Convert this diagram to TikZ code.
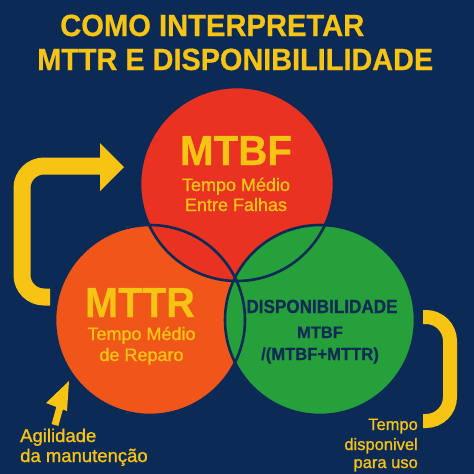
\documentclass[tikz,border=0pt]{standalone}
\usepackage{fontspec}
\usepackage{graphicx}
\setmainfont{Liberation Sans}
\newfontfamily\boldfam[FakeBold=0.6]{Liberation Sans Bold}
\newfontfamily\medfam[FakeBold=1.0]{Liberation Sans}
\definecolor{bgnavy}{HTML}{0C2A56}
\definecolor{redc}{HTML}{E93222}
\definecolor{orangec}{HTML}{F0561A}
\definecolor{greenc}{HTML}{26A03A}
\definecolor{yel}{HTML}{F8C414}
\definecolor{txtnavy}{HTML}{0E2B55}
\begin{document}
\begin{tikzpicture}[x=1pt,y=-1pt,
  disc/.style={circle, inner sep=0pt, draw=none},
  ytext/.style={text=yel, inner sep=0pt},
  ntext/.style={text=txtnavy, inner sep=0pt},
  ylink/.style={draw=yel, line cap=butt}]
\useasboundingbox (0,0) rectangle (474,474);
\fill[bgnavy] (0,0) rectangle (474,474);
% title
\node[ytext, anchor=base west, font=\boldfam\fontsize{30.7}{34}\selectfont] (t1) at (60,36) {\scalebox{0.95}[1]{COMO INTERPRETAR}};
\node[ytext, anchor=base west, font=\boldfam\fontsize{30.7}{34}\selectfont] (t2) at (37,70) {\scalebox{0.94}[1]{MTTR E DISPONIBILILIDADE}};
% circles
\node[disc, fill=orangec, minimum size=190pt] (mttr) at (150,320) {};
\node[disc, fill=redc, minimum size=194pt] (mtbf) at (237,184) {};
\node[disc, fill=greenc, minimum size=190pt] (disp) at (320,320) {};
\foreach \n/\r in {mttr/95,mtbf/97,disp/95}
  \draw[bgnavy, line width=2.6pt] (\n.center) circle[radius=\r pt];
% MTBF texts
\node[ytext, anchor=base, font=\boldfam\fontsize{42}{46}\selectfont] (mtbfT) at (236,165) {\scalebox{0.96}[1]{MTBF}};
\node[ytext, anchor=base, font=\medfam\fontsize{18}{20}\selectfont] (mtbf1) at (236,191) {Tempo Médio};
\node[ytext, anchor=base, font=\medfam\fontsize{18}{20}\selectfont] (mtbf2) at (236,211) {Entre Falhas};
% MTTR texts
\node[ytext, anchor=base, font=\boldfam\fontsize{42}{46}\selectfont] (mttrT) at (140,317) {\scalebox{0.94}[1]{MTTR}};
\node[ytext, anchor=base, font=\medfam\fontsize{18}{20}\selectfont] (mttr1) at (141.5,340) {Tempo Médio};
\node[ytext, anchor=base, font=\medfam\fontsize{18}{20}\selectfont] (mttr2) at (141.5,361) {de Reparo};
% Disponibilidade texts
\node[ntext, anchor=base, font=\boldfam\fontsize{19}{21}\selectfont] (dispT) at (322,313) {\scalebox{0.9}[1]{DISPONIBILIDADE}};
\node[ntext, anchor=base, font=\boldfam\fontsize{16.5}{18}\selectfont] (disp1) at (320,338) {MTBF};
\node[ntext, anchor=base, font=\boldfam\fontsize{17.5}{19}\selectfont] (disp2) at (320,360) {\scalebox{0.95}[1]{/(MTBF+MTTR)}};
% left loop arrow
\coordinate (la) at (50,297);
\coordinate (lb) at (100,166);
\draw[ylink, line width=17pt, rounded corners=22pt] (la) -- (22,297) -- (22,166) -- (lb);
\fill[yel] (124,167) -- (100,143) -- (100,191) -- cycle;
% right bracket
\coordinate (ba) at (423,317);
\coordinate (bb) at (423,421);
\draw[ylink, line width=14pt, rounded corners=24pt] (ba) -- (450,317) -- (450,421) -- (bb);
\node[ytext, anchor=base east, font=\medfam\fontsize{16.5}{18}\selectfont] (r1) at (418,430) {Tempo};
\node[ytext, anchor=base east, font=\medfam\fontsize{16.5}{18}\selectfont] (r2) at (418,450) {disponivel};
\node[ytext, anchor=base east, font=\medfam\fontsize{16.5}{18}\selectfont] (r3) at (418,468) {para uso};
% small arrow
\coordinate (sa) at (55,425);
\coordinate (sb) at (61,403);
\draw[ylink, line width=7pt] (sa) -- (sb);
\fill[yel] (69,381) -- (46,403) -- (67,411) -- cycle;
\node[ytext, anchor=base west, font=\medfam\fontsize{18.5}{20}\selectfont] (l1) at (20,442) {Agilidade};
\node[ytext, anchor=base west, font=\medfam\fontsize{18.5}{20}\selectfont] (l2) at (20,462) {da manutenção};
\end{tikzpicture}
\end{document}
